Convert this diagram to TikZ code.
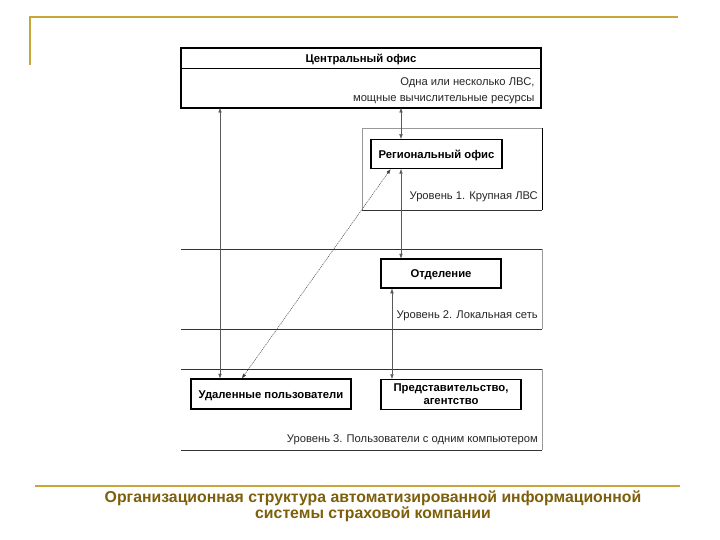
\documentclass[tikz,border=0pt]{standalone}
\usepackage{fontspec}
\setmainfont{Liberation Sans}
\usetikzlibrary{arrows.meta}
\definecolor{gold}{HTML}{C9A63A}
\definecolor{titlec}{HTML}{7D5F0A}
\begin{document}
\begin{tikzpicture}[x=1pt,y=-1pt,
  box/.style={draw,line width=1.5pt,fill=white,inner sep=0pt,font=\bfseries\fontsize{11.3}{13}\selectfont,align=center},
  onel/.style={text height=8.2pt,text depth=0pt},
  lvl/.style={font=\fontsize{11.2}{13}\selectfont,anchor=east,inner sep=0pt,text=black!85},
  band/.style={line width=0.9pt,draw=black!80},
  thin/.style={line width=0.4pt,draw=black!40},
  conn/.style={line width=0.4pt,draw=black!65,{Triangle[length=4.5pt,width=3.2pt]}-{Triangle[length=4.5pt,width=3.2pt]}},
  dconn/.style={conn,draw=black!75,line width=0.45pt,dash pattern=on 1.2pt off 0.8pt}]
\useasboundingbox (0,0) rectangle (720,540);
% gold frame lines
\draw[gold,line width=1.5pt] (30,65) -- (30,17) -- (678,17);
\draw[gold,line width=1.5pt] (35,486) -- (680,486);
\node[font=\bfseries\fontsize{15.8}{15}\selectfont,text=titlec,align=center] (title) at (373,506) {Организационная структура автоматизированной информационной\\системы страховой компании};
% central office
\draw[line width=1.3pt] (181,48) rectangle (541,108);
\draw[line width=0.9pt] (181,68) -- (541,68);
\node[font=\bfseries\fontsize{11.3}{13}\selectfont,onel,inner sep=0pt] (co) at (361,58.5) {Центральный офис};
\node[font=\fontsize{11.2}{16}\selectfont,align=right,anchor=east,text=black!85] (cot) at (538,91) {Одна или несколько ЛВС,\\мощные вычислительные ресурсы};
\coordinate (cob1) at (220,108);
\coordinate (cob2) at (401,108);
% level 1
\draw[thin] (362,210) -- (362,128) -- (542,128);
\draw[band] (362,210) -- (542,210);
\draw[line width=0.6pt] (542,128) -- (542,210);
\node[box,onel,minimum width=131pt,minimum height=29pt] (reg) at (436.5,154) {Региональный офис};
\node[lvl] (l1) at (538,197) {Уровень 1. Крупная ЛВС};
% level 2
\draw[band] (181,249) -- (542,249);
\draw[band] (181,329) -- (542,329);
\draw[thin] (542,249) -- (542,329);
\node[box,onel,minimum width=120pt,minimum height=29pt] (otd) at (441,273.5) {Отделение};
\node[lvl] (l2) at (538,316) {Уровень 2. Локальная сеть};
% level 3
\draw[band] (181,369) -- (542,369);
\draw[band] (181,450) -- (542,450);
\draw[thin] (542,369) -- (542,450);
\node[box,onel,minimum width=160pt,minimum height=30pt] (ud) at (271,394) {Удаленные пользователи};
\node[box,minimum width=140pt,minimum height=30pt] (pr) at (451,394.5) {Представительство,\\агентство};
\node[lvl] (l3) at (538,440) {Уровень 3. Пользователи с одним компьютером};
% connectors
\draw[conn] (cob1) -- (ud.north -| cob1);
\draw[conn] (cob2) -- (reg.north -| cob2);
\draw[conn] (reg.south -| cob2) -- (otd.north -| cob2);
\coordinate (x3) at (392,0);
\draw[conn] (otd.south -| x3) -- (pr.north -| x3);
\draw[dconn] ([xshift=-46pt]reg.south) -- ([xshift=-29pt]ud.north);
\end{tikzpicture}
\end{document}
